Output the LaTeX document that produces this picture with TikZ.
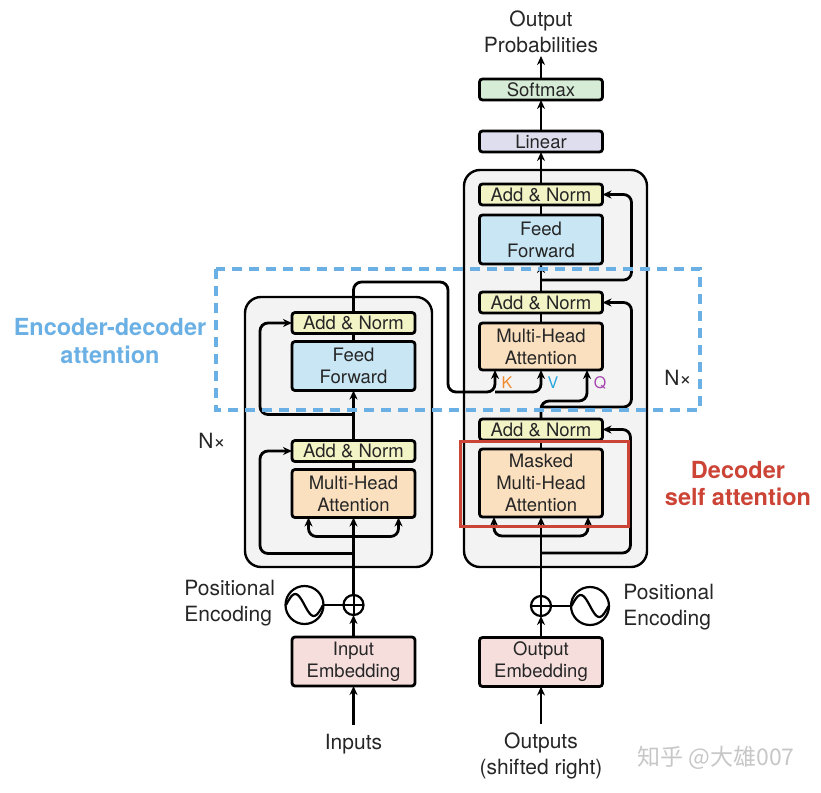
\documentclass[tikz,border=0pt]{standalone}
\usepackage{fontspec}
\setmainfont{TeX Gyre Heros}
\newfontfamily\cjk{Noto Sans CJK SC}
\usetikzlibrary{positioning,calc,arrows.meta}
\definecolor{normfill}{HTML}{F2F4C6}
\definecolor{fffill}{HTML}{C8E6F4}
\definecolor{attfill}{HTML}{FBE0BF}
\definecolor{embfill}{HTML}{F6DEDD}
\definecolor{smfill}{HTML}{D6ECD6}
\definecolor{linfill}{HTML}{DEDEEE}
\definecolor{panelfill}{HTML}{F3F3F3}
\definecolor{edblue}{HTML}{6BB0E4}
\definecolor{dsred}{HTML}{CC4436}
\definecolor{kcol}{HTML}{F08A2C}
\definecolor{vcol}{HTML}{26A6DE}
\definecolor{qcol}{HTML}{A745B0}

\begin{document}
\begin{tikzpicture}[x=1pt, y=-1pt, line width=2.8pt, >={Stealth[length=9pt,width=8pt]},
    box/.style={draw, rectangle, rounded corners=3pt, minimum width=123pt, inner sep=0pt, outer sep=0pt,
        align=center, text=black!85, font=\fontsize{18.5}{22}\selectfont},
    norm/.style={box, fill=normfill, minimum height=21pt},
    ff/.style={box, fill=fffill, minimum height=49pt},
    att/.style={box, fill=attfill, minimum height=48pt},
    emb/.style={box, fill=embfill, minimum height=49pt},
    addc/.style={draw, circle, minimum size=20pt, inner sep=0pt, outer sep=0pt, line width=2.2pt},
    wave/.style={draw, circle, minimum size=38pt, inner sep=0pt, outer sep=0pt, line width=2.2pt},
    lbl/.style={align=center, inner sep=2pt, text=black!85, font=\fontsize{21}{25.5}\selectfont},
    kvq/.style={inner sep=0pt, font=\fontsize{16}{18}\selectfont},
    panel/.style={draw, fill=panelfill, rounded corners=16pt, line width=2.4pt},
    rc/.style={rounded corners=8pt}]
    \useasboundingbox (0,0) rectangle (821,792);

    % Panels
    \draw[panel] (245,297) rectangle (432,567);
    \draw[panel] (464,170) rectangle (647,567);

    % Nodes (encoder)
    \node (enc_emb) [emb] at (353.5,661.5) {Input\\Embedding};
    \node (enc_add) [addc] at (353.5,605) {};
    \node (enc_pe) [wave, left=20pt of enc_add] {};
    \node (enc_mha) [att] at (353.5,493.5) {Multi-Head\\Attention};
    \node (enc_an1) [norm, above=8pt of enc_mha] {Add \& Norm};
    \node (enc_ff) [ff, above=50pt of enc_an1] {Feed\\Forward};
    \node (enc_an2) [norm, above=8pt of enc_ff] {Add \& Norm};
    \node (inputs) [lbl] at (353.5,744) {Inputs};
    \node (enc_pelbl) [lbl, anchor=west, align=left] at (181,603) {Positional\\Encoding};
    \node (enc_n) [lbl] at (212,441) {N×};

    % Nodes (decoder)
    \node (dec_emb) [emb] at (541,662) {Output\\Embedding};
    \node (dec_add) [addc] at (541,606) {};
    \node (dec_pe) [wave, right=20pt of dec_add] {};
    \node (dec_mmha) [att, minimum height=68pt] at (541,483) {Masked\\Multi-Head\\Attention};
    \node (dec_an1) [norm, above=9pt of dec_mmha] {Add \& Norm};
    \node (dec_mha) [att, minimum height=47pt, above=49pt of dec_an1] {Multi-Head\\Attention};
    \node (dec_an2) [norm, above=10pt of dec_mha] {Add \& Norm};
    \node (dec_ff) [ff, above=28pt of dec_an2] {Feed\\Forward};
    \node (dec_an3) [norm, above=10pt of dec_ff] {Add \& Norm};
    \node (linear) [box, fill=linfill, minimum height=21pt, above=32pt of dec_an3] {Linear};
    \node (softmax) [box, fill=smfill, minimum height=21pt, above=31pt of linear] {Softmax};
    \node (outprob) [lbl, above=23pt of softmax] {Output\\Probabilities};
    \node (outputs) [lbl] at (541,756) {Outputs\\(shifted right)};
    \node (dec_pelbl) [lbl, anchor=west, align=left] at (620,607) {Positional\\Encoding};
    \node (dec_n) [lbl] at (678,378) {N×};

    \coordinate (kin) at ([xshift=-46pt]dec_mha.south);
    \coordinate (vin) at (dec_mha.south);
    \coordinate (qin) at ([xshift=46pt]dec_mha.south);
    \node (klbl) [kvq, text=kcol] at (507,383) {K};
    \node (vlbl) [kvq, text=vcol] at (553,383) {V};
    \node (qlbl) [kvq, text=qcol] at (600,383) {Q};

    % Edges (encoder)
    \draw[->, shorten <=6pt] (inputs) -- (enc_emb);
    \draw[->] (enc_emb) -- (enc_add);
    \draw[line width=2.2pt] (enc_pe) -- (enc_add);
    \draw[line width=2pt] (enc_add.north) -- (enc_add.south) (enc_add.west) -- (enc_add.east);
    \draw[line width=2.2pt, shift={(enc_pe.center)}] plot[smooth, domain=-18.5:18.5, samples=25] (\x, {11*sin(\x*180/18.5)});
    \draw[->] (enc_add) -- (enc_mha);
    \coordinate (enc_fork) at ($(enc_mha.south)+(0,19)$);
    \draw[->, rc] (enc_fork) -| ([xshift=-45pt]enc_mha.south);
    \draw[->, rc] (enc_fork) -| ([xshift=45pt]enc_mha.south);
    \draw[->, rc] ($(enc_mha.south)+(0,36)$) -| ([xshift=-32pt]enc_an1.west) -- (enc_an1.west);
    \draw (enc_mha) -- (enc_an1);
    \draw[->] (enc_an1) -- (enc_ff);
    \draw[->, rc] ($(enc_an1.north)+(0,-26)$) -| ([xshift=-32pt]enc_an2.west) -- (enc_an2.west);
    \draw (enc_ff) -- (enc_an2);

    % Edges (encoder to decoder)
    \draw[->, rc] (enc_an2.north) |- (448,282) |- ($(kin)+(0,22)$) -- (kin);
    \draw[->, rc] ($(kin)+(0,22)$) -| (vin);
    \draw[->, rc] (dec_an1.north) |- ($(qin)+(-20,31)$) -| (qin);

    % Edges (decoder)
    \draw[->, shorten <=6pt] (outputs) -- (dec_emb);
    \draw[->] (dec_emb) -- (dec_add);
    \draw[line width=2.2pt] (dec_pe) -- (dec_add);
    \draw[line width=2pt] (dec_add.north) -- (dec_add.south) (dec_add.west) -- (dec_add.east);
    \draw[line width=2.2pt, shift={(dec_pe.center)}] plot[smooth, domain=-18.5:18.5, samples=25] (\x, {11*sin(\x*180/18.5)});
    \draw[->] (dec_add) -- (dec_mmha);
    \coordinate (dec_fork) at ($(dec_mmha.south)+(0,19)$);
    \draw[->, rc] (dec_fork) -| ([xshift=-47pt]dec_mmha.south);
    \draw[->, rc] (dec_fork) -| ([xshift=47pt]dec_mmha.south);
    \draw[->, rc] ($(dec_mmha.south)+(0,36)$) -| ([xshift=28pt]dec_an1.east) -- (dec_an1.east);
    \draw (dec_mmha) -- (dec_an1);
    \draw[->, rc] ($(dec_an1.north)+(0,-12)$) -| ([xshift=29pt]dec_an2.east) -- (dec_an2.east);
    \draw (dec_mha) -- (dec_an2);
    \draw[->] (dec_an2) -- (dec_ff);
    \draw[->, rc] ($(dec_an2.north)+(0,-12)$) -| ([xshift=29pt]dec_an3.east) -- (dec_an3.east);
    \draw (dec_ff) -- (dec_an3);
    \draw[->] (dec_an3) -- (linear);
    \draw[->] (linear) -- (softmax);
    \draw[->] (softmax) -- (outprob);

    % Highlights
    \draw[dsred, line width=3pt] (460,441) rectangle (628,526);
    \draw[edblue, line width=3.5pt, dash pattern=on 10pt off 7pt] (216,269) rectangle (700,410);
    \node (edlbl) [align=center, text=edblue, font=\bfseries\fontsize{23.5}{28}\selectfont] at (110,341) {Encoder-decoder\\attention};
    \node (dslbl) [align=center, text=dsred, font=\bfseries\fontsize{23.5}{27}\selectfont] at (738,484) {Decoder\\self attention};
    \node (wm) [text=black!22, font=\cjk\fontsize{23}{26}\selectfont] at (716,758) {知乎 @大雄007};
\end{tikzpicture}
\end{document}
